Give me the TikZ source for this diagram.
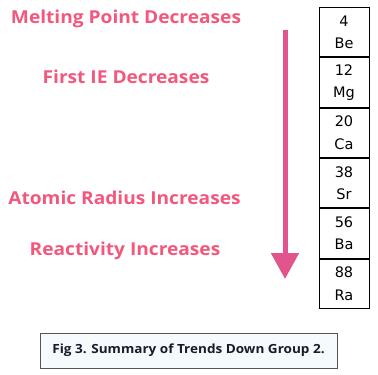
\documentclass[tikz,border=0pt]{standalone}
\usepackage{fontspec}
\setmainfont{Open Sans}
\newfontfamily\dejavu{DejaVu Sans}
\usetikzlibrary{arrows.meta}
\definecolor{trendpink}{HTML}{F2577C}
\definecolor{arrowpink}{HTML}{E1548E}
\definecolor{capfill}{HTML}{F5FAFC}
\definecolor{capdraw}{HTML}{555555}
\definecolor{captext}{HTML}{1A1A2A}
\newcommand{\widen}[1]{\scalebox{1.075}[1]{#1}}
\tikzset{
  trend/.style={text=trendpink, font=\fontsize{17.8}{19}\selectfont\bfseries, inner sep=0pt},
  cell/.style={draw=black, line width=1pt, minimum width=50pt, minimum height=49.3pt, inner sep=0pt, align=center, font=\dejavu\fontsize{14.5}{22.5}\selectfont},
}
\begin{document}
\begin{tikzpicture}[x=1pt,y=-1pt]
\useasboundingbox (0,0) rectangle (378,375);
\node[trend] (mp) at (126,19) {\widen{Melting Point Decreases}};
\node[trend] (ie) at (126,77) {\widen{First IE Decreases}};
\node[trend] (ar) at (124.5,198) {\widen{Atomic Radius Increases}};
\node[trend] (re) at (125,251) {\widen{Reactivity Increases}};
\coordinate (atop) at (285,30);
\coordinate (abot) at (285,279);
\draw[arrowpink, line width=5pt, -{Triangle[width=27pt,length=26pt]}] (atop) -- (abot);
\node[cell, anchor=north] (be) at (344,7) {4\\Be};
\node[cell, anchor=north] (mg) at (be.south) {12\\Mg};
\node[cell, anchor=north] (ca) at (mg.south) {20\\Ca};
\node[cell, anchor=north] (sr) at (ca.south) {38\\Sr};
\node[cell, anchor=north] (ba) at (sr.south) {56\\Ba};
\node[cell, anchor=north] (ra) at (ba.south) {88\\Ra};
\node[draw=capdraw, fill=capfill, line width=1pt, minimum width=297pt, minimum height=35pt, text=captext, font=\fontsize{12.6}{14}\selectfont\bfseries] (cap) at (188.5,350.5) {\widen{Fig 3. Summary of Trends Down Group 2.}};
\end{tikzpicture}
\end{document}
